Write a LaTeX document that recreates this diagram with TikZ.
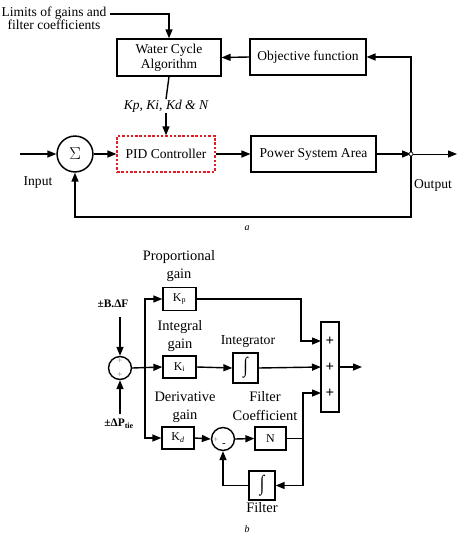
\documentclass[tikz,border=0pt]{standalone}
\usepackage{fontspec}
\setmainfont{Liberation Serif}
\usetikzlibrary{arrows.meta}
\begin{document}
\begin{tikzpicture}[x=1bp,y=-1bp,
  line width=1.4bp,
  arr/.style={-{Triangle[length=9bp,width=7bp]}},
  blk/.style={draw, line width=1.5bp, inner sep=0pt, align=center, font=\fontsize{13.6}{15}\selectfont},
  sblk/.style={draw, line width=1.4bp, inner sep=0pt, align=center, font=\fontsize{12}{14}\selectfont},
  lbl/.style={inner sep=0pt, align=center, font=\fontsize{13.6}{13}\selectfont},
  blbl/.style={inner sep=0pt, align=center, font=\fontsize{14.5}{18.5}\selectfont},
]
\useasboundingbox (0,0) rectangle (474,534);
% ---------- part a ----------
\node[lbl] (lim) at (54,18.5) {Limits of gains and\\filter coefficients};
\coordinate (limc) at (110,14);
\node[blk, minimum width=104, minimum height=37] (wca) at (169,57.5) {Water Cycle\\Algorithm};
\node[blk, minimum width=116, minimum height=36] (obj) at (308,57) {Objective function};
\node[lbl, font=\itshape\fontsize{13.6}{13}\selectfont] (par) at (166,106) {Kp, Ki, Kd \& N};
\node[blk, draw={rgb,255:red,225;green,30;blue,40}, dash pattern=on 2.5bp off 1.8bp, minimum width=98, minimum height=36] (pid) at (166,154) {PID Controller};
\node[blk, minimum width=125, minimum height=36] (psa) at (313.5,154) {Power System Area};
\node[draw, circle, line width=1.5bp, minimum size=36, inner sep=0pt, font=\fontsize{17}{17}\selectfont] (sum) at (75,154) {$\Sigma$};
\coordinate (in) at (20,154);
\node[lbl] (input) at (38,183) {Input};
\coordinate (jc) at (411,154);
\coordinate (out) at (457,154);
\coordinate (fb) at (411,217);
\node[lbl] (output) at (433,185) {Output};
\node[lbl, font=\itshape\fontsize{10}{10}\selectfont] (capa) at (247,228) {a};

\draw[arr] (limc) -| (wca.north);
\draw[arr] (obj.west) -- (wca.east);
\draw (wca.south) -- (par.north);
\draw[arr] (par.south) -- (pid.north);
\draw[arr] (in) -- (sum.west);
\draw[arr] (sum.east) -- (pid.west);
\draw[arr] (pid.east) -- (psa.west);
\draw[arr] (psa.east) -- (jc);
\draw[arr, line width=0.8bp] (jc) -- (out);
\draw[arr] (jc) |- (obj.east);
\draw[arr] (jc) -- (fb) -| (sum.south);
\node[circle, draw, fill=white, line width=0.6bp, minimum size=4bp, inner sep=0pt] (jn) at (jc) {};

% ---------- part b ----------
\node[blbl] (propl) at (179,266) {Proportional\\gain};
\node[blbl] (intl) at (180,336) {Integral\\gain};
\node[blbl] (derl) at (185,407) {Derivative\\gain};
\node[blbl] (fcl) at (265,406) {Filter\\Coefficient};
\node[blbl, font=\fontsize{13.8}{13.8}\selectfont] (itl) at (248,341) {Integrator};
\node[blbl] (fl) at (262,508) {Filter};
\node[lbl, font=\itshape\fontsize{10}{10}\selectfont] (capb) at (247,529) {b};

\node[sblk, minimum width=33, minimum height=23] (kp) at (179.5,299) {K\textsubscript{p}};
\node[sblk, minimum width=33, minimum height=22] (ki) at (179.5,367) {K\textsubscript{i}};
\node[sblk, minimum width=32, minimum height=22] (kd) at (178,438) {K\textsubscript{\itshape d}};
\node[sblk, minimum width=25, minimum height=30] (integ) at (245.5,368) {\fontsize{15}{15}\selectfont\scalebox{1.1}[1.45]{∫}};
\node[sblk, minimum width=31, minimum height=23] (nb) at (270.5,438.5) {N};
\node[sblk, minimum width=26, minimum height=29] (filt) at (262,485.5) {\fontsize{15}{15}\selectfont\scalebox{1.1}[1.45]{∫}};
\node[draw, line width=1.5bp, minimum width=18, minimum height=90, inner sep=0pt] (summ) at (330,367) {};
\foreach \yy [count=\i] in {341,367,393} {
  \node[inner sep=0pt, font=\bfseries\fontsize{15}{15}\selectfont] (pl\i) at (330,\yy) {+};
  \coordinate (s\i) at (321,\yy);
}
\coordinate (sout) at (362,367);

\node[draw, circle, line width=1.4bp, minimum size=23, inner sep=0pt] (c1) at (120,368) {};
\node[inner sep=0pt, text=gray, font=\fontsize{9}{9}\selectfont] (c1a) at (120,361) {+};
\node[inner sep=0pt, text=gray, font=\fontsize{9}{9}\selectfont] (c1b) at (120,375) {+};
\node[draw, circle, line width=1.4bp, minimum size=23, inner sep=0pt] (c2) at (223,439) {};
\node[inner sep=0pt, text=gray, font=\fontsize{9}{9}\selectfont] (c2a) at (216,440) {+};
\node[inner sep=0pt, font=\fontsize{11}{11}\selectfont] (c2b) at (224,445) {-};

\node[inner sep=0pt, font=\bfseries\fontsize{11.5}{11}\selectfont] (bf) at (113,304) {±B.ΔF};
\node[inner sep=0pt, font=\bfseries\fontsize{11.5}{11}\selectfont] (pt) at (119,424) {±ΔP\textsubscript{tie}};
\coordinate (bfa) at (120,317);
\coordinate (pta) at (120,414);
\coordinate (br) at (145,368);
\coordinate (kpr) at (301,299);
\coordinate (nj) at (303,438.5);

\draw[arr] (bfa) -- (c1.north);
\draw[arr] (pta) -- (c1.south);
\draw[arr] (c1.east) -- (ki.west);
\draw[arr] (br) |- (kp.west);
\draw[arr] (br) |- (kd.west);
\draw[arr] (ki.east) -- (integ.west);
\draw[arr] (integ.east) -- (s2);
\draw[arr] (kp.east) -- (kpr) |- (s1);
\draw[arr] (kd.east) -- (c2.west);
\draw[arr] (c2.east) -- (nb.west);
\draw (nb.east) -- (nj);
\draw[arr] (nj) |- (s3);
\draw[arr] (nj) |- (filt.east);
\draw[arr] (filt.west) -| (c2.south);
\draw[arr] (summ.east) -- (sout);
\end{tikzpicture}
\end{document}
